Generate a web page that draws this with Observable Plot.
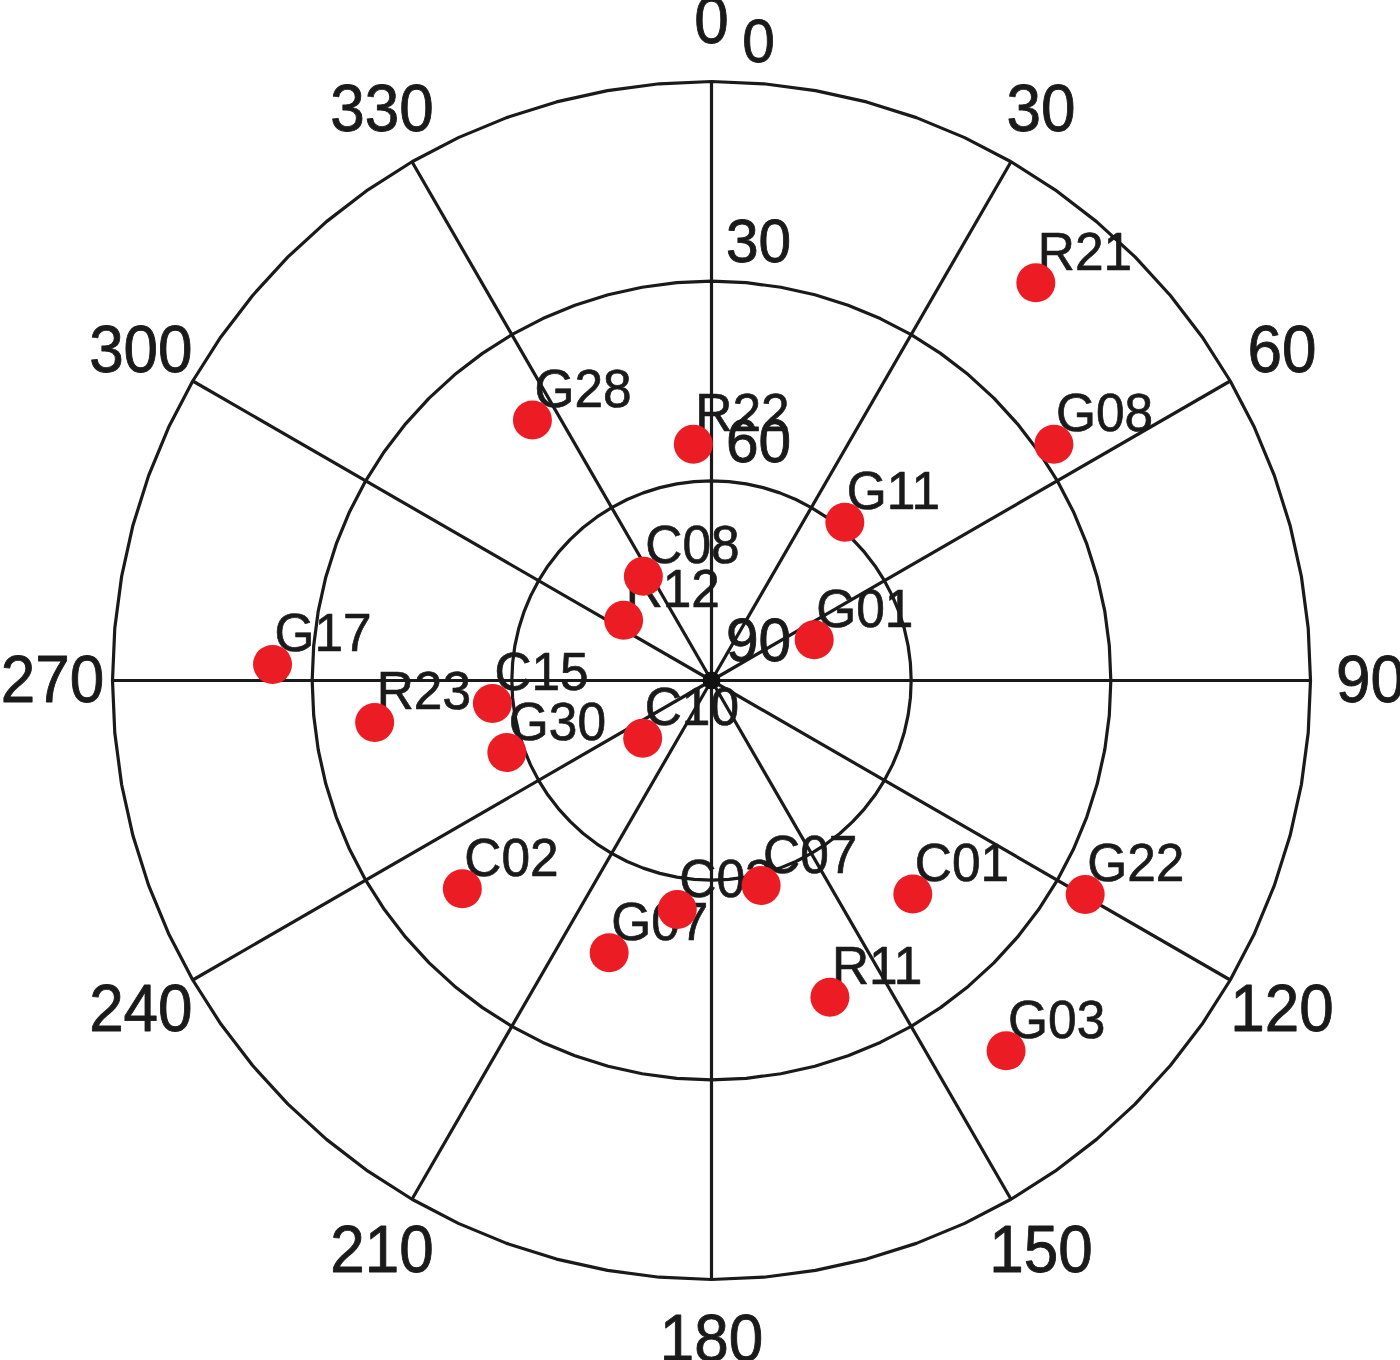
<!DOCTYPE html>
<html>
<head>
<meta charset="utf-8">
<script src="https://cdn.jsdelivr.net/npm/d3@7"></script>
<script src="https://cdn.jsdelivr.net/npm/@observablehq/plot@0.6"></script>
<style>
  html, body { margin: 0; padding: 0; background: #fff; }
  #chart svg { display: block; }
</style>
</head>
<body>
<div id="chart"></div>
<script>
// Satellite names, azimuth (deg, clockwise from north) and elevation (deg)
const sats = ["R21","G08","G28","R22","G11","C08","R12","G01","G17","C15","R23","G30","C10","C02","C07","C03","G07","C01","G22","R11","G03"];
const azimuth = [39.2, 55.4, 325.5, 355.6, 40.1, 326.8, 304.4, 68.4, 272.1, 264.0, 262.9, 250.6, 230.0, 230.1, 166.4, 188.5, 200.6, 136.7, 119.8, 159.5, 141.5];
const elevation = [12.9, 27.5, 42.5, 54.4, 58.9, 71.3, 74.0, 73.4, 24.0, 56.9, 39.0, 57.4, 76.5, 41.2, 58.3, 55.2, 46.3, 45.9, 25.3, 39.2, 18.9];

const azTicks = [0, 30, 60, 90, 120, 150, 180, 210, 240, 270, 300, 330];
const elTicks = [0, 30, 60, 90];
const elRings = [0, 30, 60];

const rad = Math.PI / 180;
const px = (az, el) => (90 - el) * Math.sin(az * rad);
const py = (az, el) => (90 - el) * Math.cos(az * rad);

const points = sats.map((s, i) => ({name: s, x: px(azimuth[i], elevation[i]), y: py(azimuth[i], elevation[i])}));

const ringPts = [];
elRings.forEach(e => {
  for (let a = 0; a <= 360; a += 5) ringPts.push({ring: e, x: px(a, e), y: py(a, e)});
});
const spokes = azTicks.map(a => ({x1: 0, y1: 0, x2: px(a, 0), y2: py(a, 0)}));
const azLabels = azTicks.map(a => ({label: String(a), x: px(a, -9), y: py(a, -9)}));
const elLabels = elTicks.map(e => ({label: String(e), x: 0, y: 90 - e}));

const W = 1400, H = 1360, cx = 711, cy = 680;
const k = 599 / 90;

const font = "'Liberation Sans', Helvetica, Arial, sans-serif";
const ink = "#1a1a1a";

const svg = Plot.plot({
  width: W,
  height: H,
  margin: 0,
  x: {domain: [-cx / k, (W - cx) / k], axis: null},
  y: {domain: [-(H - cy) / k, cy / k], axis: null},
  style: {fontFamily: font, background: "#fff"},
  marks: [
    Plot.line(ringPts, {x: "x", y: "y", z: "ring", stroke: ink, strokeWidth: 3.2, curve: "linear"}),
    Plot.link(spokes, {x1: "x1", y1: "y1", x2: "x2", y2: "y2", stroke: ink, strokeWidth: 3.2}),
    Plot.dot([{x: 0, y: 0}], {x: "x", y: "y", r: 9, fill: "#111"}),
    Plot.text(azLabels, {x: "x", y: "y", text: "label", fontSize: 66, fill: ink, stroke: ink, strokeWidth: 0.9, textAnchor: "middle", lineAnchor: "middle"}),
    Plot.text(elLabels, {x: "x", y: "y", text: "label", fontSize: 62, fill: ink, stroke: ink, strokeWidth: 0.9, textAnchor: "middle", lineAnchor: "middle", dx: 47, dy: -39}),
    Plot.text(points, {x: "x", y: "y", text: "name", fontSize: 53, fill: ink, stroke: ink, strokeWidth: 0.7, textAnchor: "start", lineAnchor: "middle", dx: 2, dy: -30}),
    Plot.dot(points, {x: "x", y: "y", r: 19.5, fill: "#ec1c24", stroke: "none"})
  ]
});

document.getElementById("chart").appendChild(svg);

// Narrow the glyphs horizontally to match the condensed lettering of the reference
const squeeze = {"66px": 0.94, "62px": 0.945, "53px": 0.97};
svg.querySelectorAll("text").forEach(t => {
  const fs = getComputedStyle(t).fontSize;
  const f = squeeze[fs] || 0.95;
  const w = t.getComputedTextLength();
  if (w > 0) {
    t.setAttribute("textLength", (w * f).toFixed(1));
    t.setAttribute("lengthAdjust", "spacingAndGlyphs");
  }
});
</script>
</body>
</html>
